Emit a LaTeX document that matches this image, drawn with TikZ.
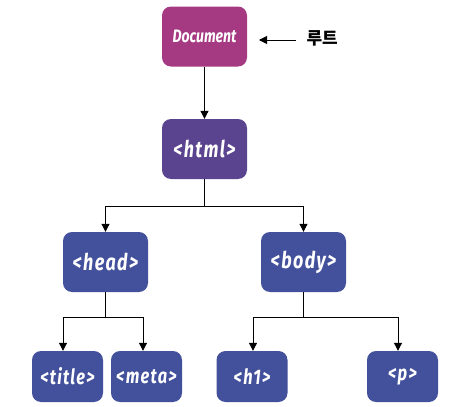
\documentclass[tikz,border=0pt]{standalone}
\usepackage{fontspec}
\usetikzlibrary{arrows.meta}
\newfontfamily\docfont[FakeStretch=0.78]{Fira Sans}
\newfontfamily\tagfont[FakeStretch=0.78, LetterSpace=6]{Fira Sans}
\newfontfamily\krfont{Noto Sans CJK KR}
\definecolor{docc}{HTML}{A63A82}
\definecolor{htmlc}{HTML}{5B448F}
\definecolor{elc}{HTML}{43509B}
\tikzset{
  box/.style={rectangle, rounded corners=9pt, inner sep=0pt, text=white,
    font=\tagfont\itshape\bfseries\fontsize{23}{26}\selectfont},
  big/.style={box, minimum width=85pt, minimum height=60pt},
  leaf/.style={box, minimum width=71pt, minimum height=51pt, font=\tagfont\itshape\bfseries\fontsize{21}{24}\selectfont},
  conn/.style={line width=1pt, -{Triangle[length=8pt,width=8pt]}},
  plain/.style={line width=1pt},
}
\begin{document}
\begin{tikzpicture}[x=1pt,y=-1pt]
\useasboundingbox (0,0) rectangle (467,407);
\node[big, fill=docc, font=\docfont\itshape\bfseries\fontsize{18}{21}\selectfont] (doc) at (204.5,36.5) {Document};
\node[big, fill=htmlc] (html) at (204.5,149) {<html>};
\node[big, fill=elc] (head) at (105.5,262) {<head>};
\node[big, fill=elc] (body) at (303.5,262) {<body>};
\node[leaf, fill=elc] (title) at (67.5,376.5) {<title>};
\node[leaf, fill=elc] (meta) at (146.5,376.5) {<meta>};
\node[leaf, fill=elc] (h1) at (252,376.5) {<h1>};
\node[leaf, fill=elc] (p) at (402.5,376.5) {<p>};
\node[font=\krfont\bfseries\fontsize{17}{20}\selectfont, anchor=west] (root) at (303,38) {루트};
\coordinate (rootend) at (296,40);
\draw[conn] (rootend) -- (259,40);
\draw[conn] (doc) -- (html);
\draw[plain] (html.south) -- ++(0,27) coordinate (hj);
\draw[conn] (hj) -| (head.north);
\draw[conn] (hj) -| (body.north);
\draw[plain] (head.south) -- ++(0,25) coordinate (hdj);
\draw[conn] (hdj) -| ([xshift=-4.5pt]title.north);
\draw[conn] (hdj) -| ([xshift=-3.5pt]meta.north);
\draw[plain] (body.south) -- ++(0,25) coordinate (bdj);
\draw[conn] (bdj) -| ([xshift=1pt]h1.north);
\draw[conn] (bdj) -| ([xshift=-4.5pt]p.north);
\end{tikzpicture}
\end{document}
